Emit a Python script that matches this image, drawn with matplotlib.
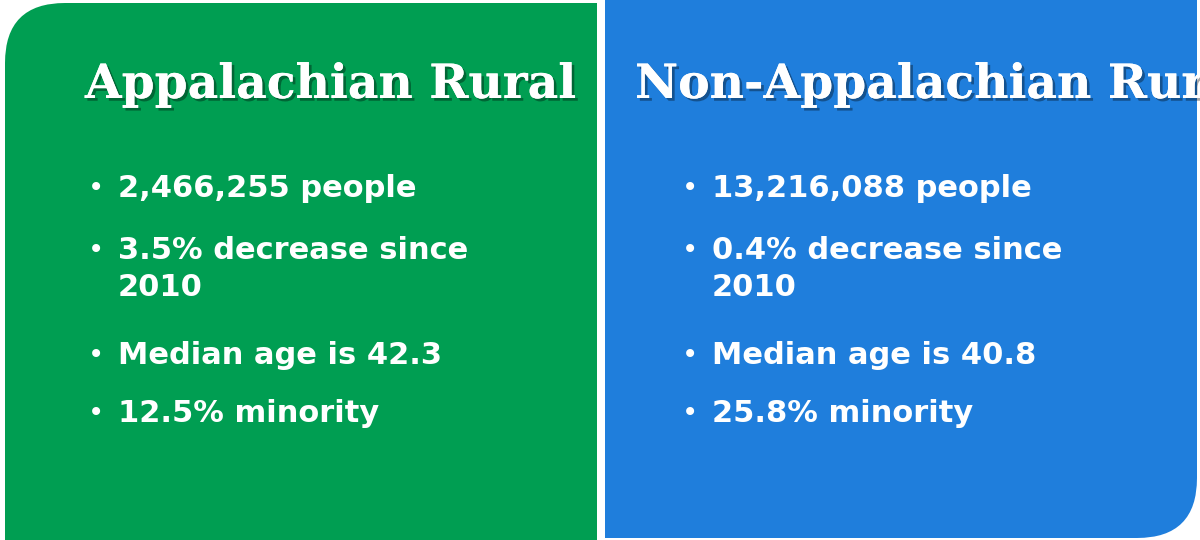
import matplotlib.pyplot as plt
from matplotlib.patches import FancyBboxPatch, Rectangle
import matplotlib.patheffects as pe

titles = ['Appalachian Rural', 'Non-Appalachian Rural']
left_items = ['2,466,255 people', '3.5% decrease since\n2010', 'Median age is 42.3', '12.5% minority']
right_items = ['13,216,088 people', '0.4% decrease since\n2010', 'Median age is 40.8', '25.8% minority']
colors = ['#009E52', '#1F7EDC']

fig = plt.figure(figsize=(12, 5.4), dpi=100)
ax = fig.add_axes([0, 0, 1, 1])
ax.set_xlim(0, 1200)
ax.set_ylim(540, 0)
ax.axis('off')

# panel backgrounds: one rounded corner each, others squared by rectangles
r = 60
ax.add_patch(FancyBboxPatch((5, 3), 592, 537, boxstyle='round,pad=0,rounding_size=%d' % r,
                            fc=colors[0], ec='none'))
ax.add_patch(Rectangle((5 + r, 3), 592 - r, 537, fc=colors[0], ec='none'))
ax.add_patch(Rectangle((5, 3 + r), 592, 537 - r, fc=colors[0], ec='none'))

ax.add_patch(FancyBboxPatch((605, 0), 592, 538, boxstyle='round,pad=0,rounding_size=%d' % r,
                            fc=colors[1], ec='none'))
ax.add_patch(Rectangle((605, 0), 592 - r, 538, fc=colors[1], ec='none'))
ax.add_patch(Rectangle((605, 0), 592, 538 - r, fc=colors[1], ec='none'))

shadow = [pe.withSimplePatchShadow(offset=(2, -2), shadow_rgbFace='black', alpha=0.35), pe.Normal()]

title_x = [85, 635]
bullet_x = [88, 682]
text_x = [118, 712]
rows = [188, 250, 355, 413]

for i, items in enumerate([left_items, right_items]):
    ax.text(title_x[i], 85, titles[i], color='white', fontsize=34, family='DejaVu Serif',
            fontweight='bold', ha='left', va='center', path_effects=shadow)
    for y, s in zip(rows, items):
        ax.text(bullet_x[i], y, '•', color='white', fontsize=20, ha='left', va='center',
                family='DejaVu Sans')
        ax.text(text_x[i], y - 14, s, color='white', fontsize=22, fontweight='bold',
                family='DejaVu Sans', ha='left', va='top', linespacing=1.35)

fig.savefig('out.png', dpi=100)
